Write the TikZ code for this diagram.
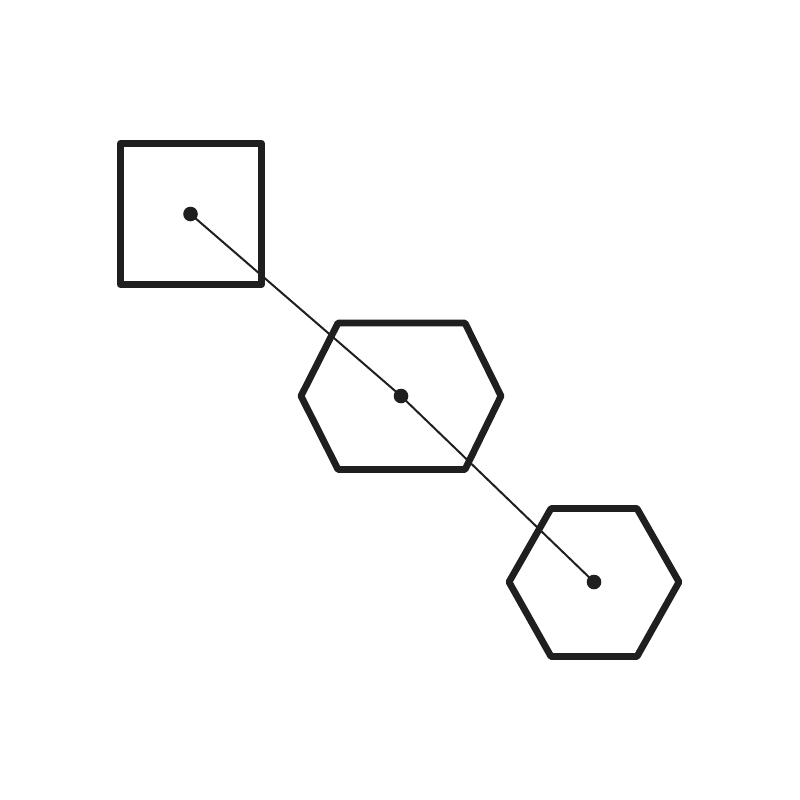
\documentclass[tikz,border=0pt]{standalone}
\begin{document}
\begin{tikzpicture}[x=1pt,y=-1pt,
  outline/.style={draw=black!88,line width=6.8pt,line join=round},
  link/.style={draw=black!88,line width=2pt},
  dot/.style={fill=black!88}]
\useasboundingbox (0,0) rectangle (800,800);
\fill[white] (0,0) rectangle (800,800);
\draw[outline] (120.5,143.5) rectangle (261.5,284.5);
\draw[outline] (338,323) -- (465,323) -- (501,396) -- (465,469.5) -- (338,469.5) -- (301,396) -- cycle;
\draw[outline] (551,508.5) -- (637,508.5) -- (679,582) -- (637,656.5) -- (551,656.5) -- (509,582) -- cycle;
\coordinate (c1) at (190.5,214);
\coordinate (c2) at (401,396);
\coordinate (c3) at (594,582);
\draw[link] (c1) -- (c2) -- (c3);
\fill[dot] (c1) circle (7.3);
\fill[dot] (c2) circle (7.3);
\fill[dot] (c3) circle (7.3);
\end{tikzpicture}
\end{document}
